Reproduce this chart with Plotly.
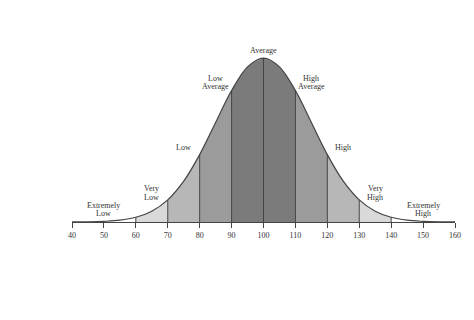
import plotly.graph_objects as go

# IQ score scale (x) and relative curve height (peak = 1)
scores = [40, 45, 50, 55, 60, 65, 70, 75, 80, 85, 90, 95, 100,
          105, 110, 115, 120, 125, 130, 135, 140, 145, 150, 155, 160]
heights = [0.0003, 0.0012, 0.004, 0.011, 0.029, 0.066, 0.135, 0.249, 0.411, 0.607, 0.801, 0.946, 1.0,
           0.946, 0.801, 0.607, 0.411, 0.249, 0.135, 0.066, 0.029, 0.011, 0.004, 0.0012, 0.0003]

# classification bands: (start, end, fill colour)
band_edges = [40, 60, 70, 80, 90, 100, 110, 120, 130, 140, 160]
band_colors = ["#ffffff", "#d9d9d9", "#b7b7b7", "#9b9b9b", "#7b7b7b",
               "#7b7b7b", "#9b9b9b", "#b7b7b7", "#d9d9d9", "#ffffff"]
divider_scores = [60, 70, 80, 90, 100, 110, 120, 130, 140]

category_labels = ["Extremely\nLow", "Very\nLow", "Low", "Low\nAverage", "Average",
                   "High\nAverage", "High", "Very\nHigh", "Extremely\nHigh"]
label_x = [50, 65, 75, 85, 100, 115, 125, 135, 150]
label_y = [0.076, 0.177, 0.457, 0.85, 1.049, 0.85, 0.457, 0.177, 0.076]

fig = go.Figure()

for i in range(len(band_edges) - 1):
    a, b = band_edges[i], band_edges[i + 1]
    xs = [s for s in scores if a <= s <= b]
    ys = [heights[scores.index(s)] for s in xs]
    fig.add_trace(go.Scatter(x=xs, y=ys, mode="lines", line=dict(width=0, shape="spline"),
                             fill="tozeroy", fillcolor=band_colors[i], hoverinfo="skip",
                             showlegend=False))

# vertical dividers
vx, vy = [], []
for s in divider_scores:
    h = heights[scores.index(s)]
    vx += [s, s, None]
    vy += [0, h, None]
fig.add_trace(go.Scatter(x=vx, y=vy, mode="lines", line=dict(color="#444444", width=1),
                         hoverinfo="skip", showlegend=False))

# outline curve
fig.add_trace(go.Scatter(x=scores, y=heights, mode="lines",
                         line=dict(color="#444444", width=1.2, shape="spline"),
                         hoverinfo="skip", showlegend=False))

line_gap = 8.5
for t, x, y in zip(category_labels, label_x, label_y):
    parts = t.split("\n")
    n = len(parts)
    for k, p in enumerate(parts):
        shift = ((n - 1) / 2 - k) * line_gap
        fig.add_annotation(x=x, y=y, xref="x", yref="y", text=p, showarrow=False,
                           yshift=shift,
                           font=dict(family="Liberation Serif", size=8, color="#333333"))

fig.update_layout(
    width=474, height=320,
    margin=dict(l=72, r=19, t=40, b=98),
    paper_bgcolor="white", plot_bgcolor="white",
    xaxis=dict(range=[40, 160], tickmode="array", tickvals=list(range(40, 161, 10)),
               showline=True, linecolor="#444444", linewidth=1,
               ticks="outside", ticklen=5, tickcolor="#444444", tickwidth=1,
               showgrid=False, zeroline=False,
               tickfont=dict(family="Liberation Serif", size=8, color="#333333")),
    yaxis=dict(range=[0, 1.11], visible=False, showgrid=False, zeroline=False),
)

fig.write_html("out.html")
